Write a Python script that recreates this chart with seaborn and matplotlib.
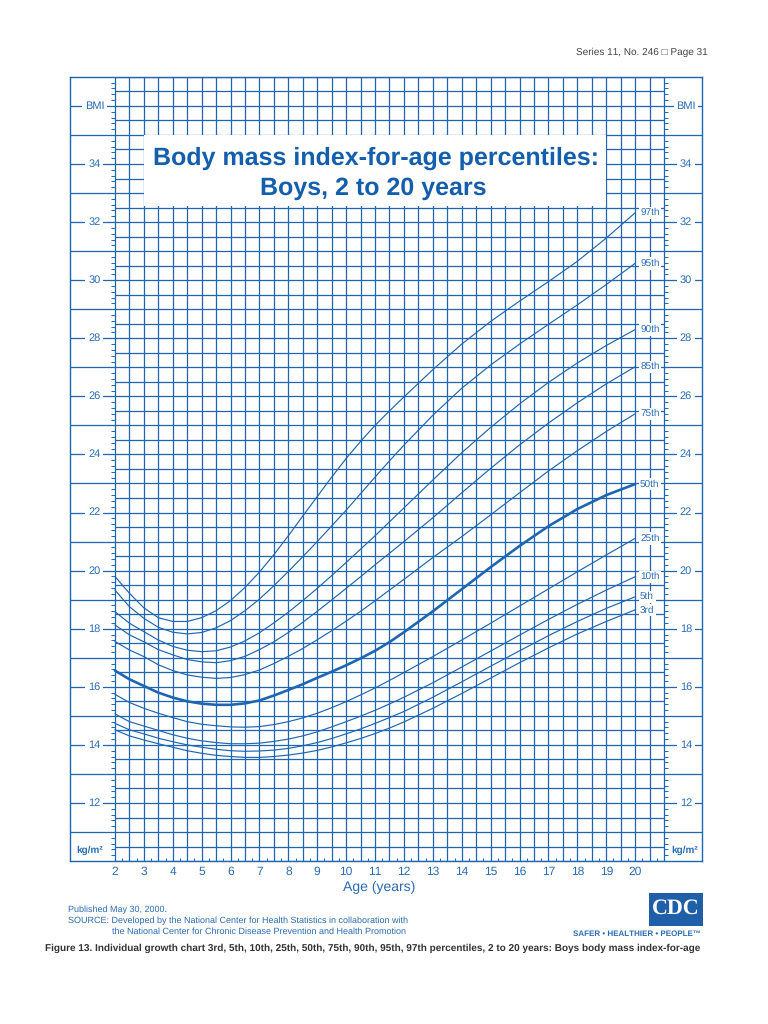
import matplotlib
matplotlib.use("Agg")
import matplotlib.pyplot as plt
import seaborn as sns
import numpy as np
import pandas as pd
from matplotlib.patches import Rectangle
from matplotlib import font_manager

# ---------------- data ----------------
ages = [2, 2.5, 3, 3.5, 4, 4.5, 5, 5.5, 6, 6.5, 7, 7.5, 8,
        8.5, 9, 9.5, 10, 10.5, 11, 11.5, 12,
        13, 14, 15, 16, 17, 18, 19, 20]

p97 = [19.80, 19.22, 18.72, 18.38, 18.25, 18.25, 18.38, 18.62, 18.97, 19.42, 19.95, 20.55, 21.20,
       21.88, 22.55, 23.22, 23.86, 24.45, 25.00, 25.50, 25.98,
       26.92, 27.80, 28.58, 29.28, 29.95, 30.65, 31.45, 32.32]
p95 = [19.33, 18.76, 18.36, 18.05, 17.88, 17.82, 17.87, 18.03, 18.28, 18.62, 19.02, 19.48, 19.97,
       20.48, 21.00, 21.54, 22.08, 22.65, 23.22, 23.78, 24.32,
       25.35, 26.28, 27.08, 27.80, 28.48, 29.15, 29.85, 30.58]
p90 = [18.59, 18.19, 17.90, 17.61, 17.39, 17.26, 17.21, 17.24, 17.37, 17.58, 17.86, 18.20, 18.57,
       18.97, 19.39, 19.83, 20.28, 20.74, 21.20, 21.68, 22.16,
       23.12, 24.06, 24.93, 25.74, 26.48, 27.15, 27.75, 28.30]
p85 = [18.13, 17.79, 17.55, 17.28, 17.10, 16.94, 16.86, 16.83, 16.90, 17.05, 17.28, 17.55, 17.87,
       18.22, 18.60, 18.99, 19.39, 19.79, 20.20, 20.60, 21.00,
       21.82, 22.68, 23.52, 24.33, 25.08, 25.78, 26.43, 27.02]
p75 = [17.56, 17.27, 17.04, 16.76, 16.56, 16.41, 16.33, 16.29, 16.32, 16.42, 16.58, 16.80, 17.05,
       17.32, 17.62, 17.93, 18.26, 18.60, 18.96, 19.33, 19.70,
       20.45, 21.17, 21.92, 22.68, 23.43, 24.13, 24.79, 25.40]
p50 = [16.56, 16.26, 16.03, 15.80, 15.63, 15.50, 15.42, 15.38, 15.38, 15.43, 15.53, 15.70, 15.89,
       16.09, 16.31, 16.52, 16.74, 16.98, 17.24, 17.54, 17.88,
       18.60, 19.36, 20.12, 20.85, 21.53, 22.12, 22.60, 22.98]
p25 = [15.74, 15.46, 15.26, 15.09, 14.94, 14.80, 14.71, 14.66, 14.62, 14.61, 14.63, 14.70, 14.80,
       14.93, 15.09, 15.28, 15.49, 15.72, 15.96, 16.22, 16.49,
       17.04, 17.61, 18.19, 18.78, 19.37, 19.96, 20.54, 21.11]
p10 = [15.07, 14.80, 14.65, 14.50, 14.35, 14.23, 14.14, 14.08, 14.04, 14.04, 14.06, 14.12, 14.20,
       14.31, 14.45, 14.62, 14.80, 14.99, 15.19, 15.41, 15.64,
       16.14, 16.68, 17.23, 17.78, 18.32, 18.84, 19.33, 19.79]
p5 = [14.74, 14.52, 14.38, 14.23, 14.11, 14.00, 13.92, 13.85, 13.80, 13.78, 13.79, 13.82, 13.88,
      13.97, 14.08, 14.22, 14.38, 14.55, 14.74, 14.94, 15.15,
      15.64, 16.17, 16.71, 17.24, 17.76, 18.25, 18.70, 19.10]
p3 = [14.52, 14.31, 14.17, 14.04, 13.92, 13.80, 13.71, 13.64, 13.60, 13.57, 13.57, 13.60, 13.65,
      13.72, 13.81, 13.93, 14.07, 14.22, 14.39, 14.58, 14.79,
      15.26, 15.77, 16.30, 16.83, 17.34, 17.82, 18.25, 18.65]

percentile_labels = ["97th", "95th", "90th", "85th", "75th", "50th", "25th", "10th", "5th", "3rd"]
percentile_values = [p97, p95, p90, p85, p75, p50, p25, p10, p5, p3]

age_ticks = list(range(2, 21))
bmi_labels = list(range(12, 35, 2))

title_lines = ["Body mass index-for-age percentiles:", "Boys, 2 to 20 years"]
header_text = "Series 11, No. 246 \u25a1 Page 31"
published = "Published May 30, 2000."
source1 = "SOURCE: Developed by the National Center for Health Statistics in collaboration with"
source2 = "the National Center for Chronic Disease Prevention and Health Promotion"
caption = ("Figure 13. Individual growth chart 3rd, 5th, 10th, 25th, 50th, 75th, 90th, 95th, 97th "
           "percentiles, 2 to 20 years: Boys body mass index-for-age")

# ---------------- style ----------------
sns.set_theme(style="white")
plt.rcParams["font.family"] = ["Liberation Sans", "DejaVu Sans"]
plt.rcParams["text.hinting"] = "no_hinting"
plt.rcParams["text.hinting_factor"] = 1
names = {f.name for f in font_manager.fontManager.ttflist}
NARROW = "Liberation Sans Narrow" if "Liberation Sans Narrow" in names else "Liberation Sans"

BLUE = "#1e66b2"
TXT = "#2a6cb4"
TITLE = "#135fad"

W, H = 768, 1024
PXY = 28.944   # px per year
PXB = 29.045   # px per BMI unit
xl = 2 - 45 / PXY
xr = 21 + 38 / PXY
top_px = 164 - 3 * PXB
bot_px = 164 + 24 * PXB

fig = plt.figure(figsize=(W / 100, H / 100), dpi=100)
fig.patch.set_facecolor("white")
ax = fig.add_axes([70 / W, 1 - bot_px / H, 632 / W, (bot_px - top_px) / H])
ax.set_xlim(xl, xr)
ax.set_ylim(10, 37)
for s in ax.spines.values():
    s.set_color(BLUE)
    s.set_linewidth(1.0)

GLW = 0.9
# grid
ax.vlines(np.arange(2, 21.001, 0.5), 10, 37, colors=BLUE, lw=GLW, zorder=1)
ax.hlines(np.arange(10, 37.001, 0.5), 2, 21, colors=BLUE, lw=GLW, zorder=1)
# side columns
odd = np.arange(11, 37, 2)
ax.hlines(odd, xl, 2, colors=BLUE, lw=GLW, zorder=1)
ax.hlines(odd, 21, xr, colors=BLUE, lw=GLW, zorder=1)
ax.hlines(bmi_labels + [36], xl, 2, colors=BLUE, lw=GLW, zorder=1)
ax.hlines(bmi_labels + [36], 21, xr, colors=BLUE, lw=GLW, zorder=1)
# minor ticks
mt = np.arange(10, 37.001, 0.2)
ax.hlines(mt, 2 - 3.5 / PXY, 2, colors=BLUE, lw=0.7, zorder=1)
ax.hlines(mt, 21, 21 + 3.5 / PXY, colors=BLUE, lw=0.7, zorder=1)
ax.vlines(np.arange(2.25, 21, 0.5), 10, 10 + 3.5 / PXB, colors=BLUE, lw=0.7, zorder=1)

lbox = dict(boxstyle="square,pad=0.25", fc="white", ec="none")
cl = (xl + 2) / 2 + 2 / PXY
cr = (21 + xr) / 2 + 3 / PXY
for v in bmi_labels:
    ax.text(cl, v, str(v), ha="center", va="center", fontsize=8.2, color=TXT, bbox=lbox, zorder=3)
    ax.text(cr, v, str(v), ha="center", va="center", fontsize=8.2, color=TXT, bbox=lbox, zorder=3)
for c in (cl, cr):
    ax.text(c, 36, "BMI", ha="center", va="center", fontsize=7.6, color=TXT, bbox=lbox, zorder=3)
ax.text((xl + 2) / 2 - 3 / PXY, 10.38, "kg/m\u00b2", ha="center", va="center", fontsize=7.4,
        fontweight="bold", color=TXT, zorder=3)
ax.text((21 + xr) / 2 + 1.5 / PXY, 10.38, "kg/m\u00b2", ha="center", va="center", fontsize=7.4,
        fontweight="bold", color=TXT, zorder=3)

# title box
ax.add_patch(Rectangle((3.0, 32.55), 16.0, 2.45, fc="white", ec="none", zorder=3))
ax.text(11.03, 34.2, title_lines[0], ha="center", va="center", fontsize=18.3, fontweight="bold",
        color=TITLE, zorder=4)
ax.text(10.93, 33.15, title_lines[1], ha="center", va="center", fontsize=18.3, fontweight="bold",
        color=TITLE, zorder=4)

# curves
rows = []
for lab, vals in zip(percentile_labels, percentile_values):
    for a, b in zip(ages, vals):
        rows.append((lab, a, b))
df = pd.DataFrame(rows, columns=["pct", "age", "bmi"])
for lab, vals in zip(percentile_labels, percentile_values):
    sub = df[df["pct"] == lab]
    lw = 1.9 if lab == "50th" else 0.85
    sns.lineplot(data=sub, x="age", y="bmi", ax=ax, color=BLUE, linewidth=lw,
                 estimator=None, legend=False, zorder=5)
    ax.text(20.17, vals[-1], lab, ha="left", va="center", fontsize=7.5, color=TXT,
            bbox=dict(boxstyle="square,pad=0.15", fc="white", ec="none"), zorder=6)

ax.set_xticks(age_ticks)
ax.set_xticklabels([str(a) for a in age_ticks])
ax.set_yticks([])
ax.tick_params(axis="x", length=0, pad=4, labelsize=8.4, labelcolor=TXT)
ax.set_xlabel("Age (years)", fontsize=10.2, color=TXT)
ax.xaxis.set_label_coords((379 - 70) / 632, -(887 - bot_px) / (bot_px - top_px))
ax.xaxis.label.set_va("center")
ax.set_ylabel("")

# header and footer
fig.text(708 / W, 1 - 52 / H, header_text, ha="right", va="center", fontsize=6.9, color="#444444",
         family=[NARROW, "Liberation Sans", "DejaVu Sans"])
fig.text(68 / W, 1 - 910 / H, published, ha="left", va="center", fontsize=6.35, color=TXT)
fig.text(68 / W, 1 - 921 / H, source1, ha="left", va="center", fontsize=6.3, color=TXT)
fig.text(112 / W, 1 - 932 / H, source2, ha="left", va="center", fontsize=6.35, color=TXT)
fig.text(45 / W, 1 - 948 / H, caption, ha="left", va="center", fontsize=7.5, fontweight="bold",
         color="#333333")

# CDC logo
fig.patches.append(Rectangle((649 / W, 1 - 926 / H), 54 / W, 33 / H, transform=fig.transFigure,
                             fc="#1f5fa8", ec="none", figure=fig))
fig.text(676 / W, 1 - 908 / H, "CDC", ha="center", va="center", fontsize=16, fontweight="bold",
         color="white", family=["Liberation Serif", "DejaVu Serif"])
fig.text(637 / W, 1 - 934 / H, "SAFER \u2022 HEALTHIER \u2022 PEOPLE\u2122", ha="center", va="center",
         fontsize=5.6, fontweight="bold", color=TXT, family=["Liberation Sans", "DejaVu Sans"])

fig.savefig("out.png", dpi=100, facecolor="white")
